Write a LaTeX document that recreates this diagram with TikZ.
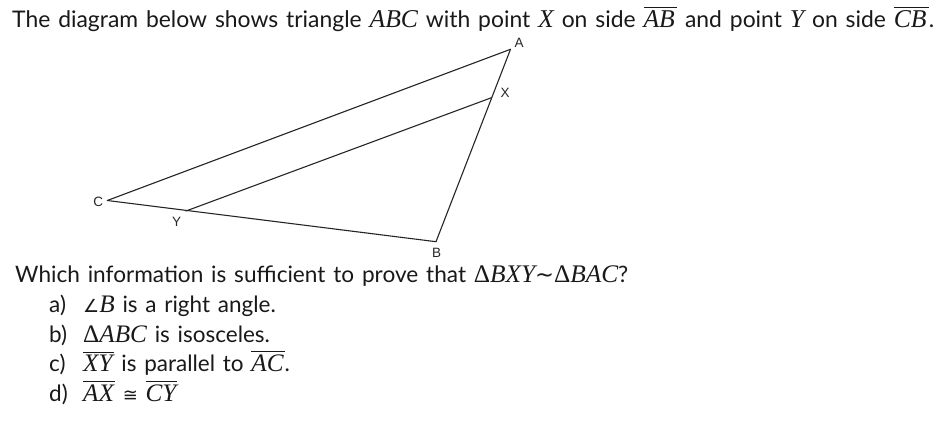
\documentclass[tikz,border=0pt]{standalone}
\usepackage{fontspec}
\usepackage{amssymb}
\setmainfont{Lato}[WordSpace=1.35]
\newfontfamily\labelfont{Liberation Sans}
\newfontfamily\mfont{Liberation Serif}[Scale=1.12]
\newfontfamily\symfont{DejaVu Sans}
\newcommand\mv[1]{{\mfont\itshape #1}}
\newcommand\seg[1]{$\overline{\hbox{\mv{#1}\kern1pt}}$}
\newcommand\tri{{\mfont Δ}}
\begin{document}
\begin{tikzpicture}[x=1pt,y=-1pt,
  txt/.style={anchor=base west,inner sep=0pt,text=black!90},
  item/.style={txt,font=\fontsize{22.5}{22.5}\selectfont},
  ptlabel/.style={inner sep=0pt,font=\labelfont\fontsize{13.5}{13.5}\selectfont,text=black!85},
  side/.style={line width=1.1pt,draw=black!85,line cap=round}]
\useasboundingbox[fill=white] (0,0) rectangle (947,422);
% vertices
\coordinate (A) at (510.5,49.3);
\coordinate (X) at (491.5,97.7);
\coordinate (C) at (107.3,200.5);
\coordinate (Y) at (186,211);
\coordinate (B) at (436,241.7);
% sides
\draw[side] (C) -- (A);
\draw[side] (A) -- (B);
\draw[side] (B) -- (C);
\draw[side] (X) -- (Y);
% point labels
\node[ptlabel] (lA) at (519,43.3) {A};
\node[ptlabel] (lX) at (505,92.7) {X};
\node[ptlabel] (lC) at (98.3,201.5) {C};
\node[ptlabel] (lY) at (176.7,221.7) {Y};
\node[ptlabel] (lB) at (436.7,252.7) {B};
% texts
\node[txt] (t1) at (12,28) {\resizebox{922pt}{!}{The diagram below shows triangle \mv{ABC} with point \mv{X} on side \seg{AB} and point \mv{Y} on side \seg{CB}.}};
\node[txt] (q) at (15,282) {\resizebox{613pt}{!}{Which information is sufficient to prove that \tri\mv{BXY}{\symfont ∼}\tri\mv{BAC}?}};
\node[item] (la) at (49,312.5) {a)};
\node[item] (ta) at (83,312.5) {{\symfont\fontsize{18}{18}\selectfont ∠}\mv{B} is a right angle.};
\node[item] (lb) at (49,342) {b)};
\node[item] (tb) at (83,342) {\tri\mv{ABC} is isosceles.};
\node[item] (lc) at (49,371.7) {c)};
\node[item] (tc) at (83,371.7) {\seg{XY} is parallel to \seg{AC}.};
\node[item] (ld) at (49,401.5) {d)};
\node[item] (td) at (83,401.5) {\seg{AX} {\symfont\fontsize{18}{18}\selectfont ≅} \seg{CY}};
\end{tikzpicture}
\end{document}
